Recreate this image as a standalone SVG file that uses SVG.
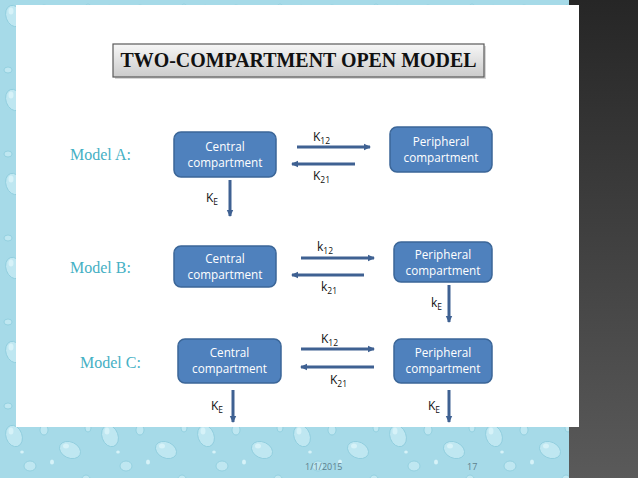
<svg xmlns="http://www.w3.org/2000/svg" width="638" height="478" viewBox="0 0 638 478">
<defs>
<style>
.box{fill:#4f81bd;stroke:#3b6698;stroke-width:1.5}
.bt{font-family:"Open Sans","Liberation Sans",sans-serif;font-size:11.7px;fill:#ffffff;text-anchor:middle}
.kl{font-family:"Open Sans","Liberation Sans",sans-serif;font-size:12px;fill:#111111}
.sub{font-size:8.5px}
.ml{font-family:"Liberation Serif","DejaVu Serif",serif;font-size:16px;fill:#45b0c4}
.arr{stroke:#3f6192;stroke-width:3;fill:none;marker-end:url(#ah)}
.ft{font-family:"Open Sans","Liberation Sans",sans-serif;font-size:9px;fill:#5d7f8c}
.d{fill:#bfe7f1;stroke:#8ccbdc;stroke-width:0.8}
.h{fill:#d6f2f8}
</style>
<marker id="ah" markerUnits="userSpaceOnUse" markerWidth="8" markerHeight="8" refX="6" refY="4" orient="auto">
<path d="M0,0.8 L7,4 L0,7.2 z" fill="#3f6192"/>
</marker>
<linearGradient id="tg" x1="0" y1="0" x2="0" y2="1">
<stop offset="0" stop-color="#f7f7f7"/>
<stop offset="1" stop-color="#cbcbcb"/>
</linearGradient>
<linearGradient id="dg" x1="0" y1="0" x2="0" y2="1">
<stop offset="0" stop-color="#262626"/>
<stop offset="1" stop-color="#5a5a5a"/>
</linearGradient>
<pattern id="drops" patternUnits="userSpaceOnUse" width="96" height="84">
<rect width="96" height="84" fill="#a6dae8"/>
<ellipse class="d" cx="14" cy="16" rx="8" ry="11" transform="rotate(-20 14 16)"/>
<ellipse class="h" cx="11" cy="11" rx="2.5" ry="3.5"/>
<ellipse class="d" cx="44" cy="10" rx="4" ry="5"/>
<ellipse class="d" cx="70" cy="30" rx="11" ry="8" transform="rotate(25 70 30)"/>
<ellipse class="h" cx="66" cy="26" rx="3" ry="2.5"/>
<ellipse class="d" cx="30" cy="46" rx="6" ry="5"/>
<ellipse class="d" cx="48" cy="68" rx="9" ry="7" transform="rotate(-30 48 68)"/>
<ellipse class="h" cx="45" cy="64" rx="2.5" ry="2"/>
<ellipse class="d" cx="86" cy="62" rx="5" ry="7"/>
<ellipse class="d" cx="8" cy="70" rx="4" ry="3"/>
<ellipse class="d" cx="88" cy="8" rx="3" ry="4"/>
<ellipse class="h" cx="52" cy="42" rx="2" ry="2.5"/>
<ellipse class="h" cx="22" cy="32" rx="1.8" ry="1.5"/>
<ellipse class="h" cx="76" cy="80" rx="2" ry="1.6"/>
<ellipse class="h" cx="30" cy="78" rx="1.6" ry="2"/>
</pattern>
</defs>

<rect x="0" y="0" width="638" height="478" fill="url(#drops)"/>
<rect x="569" y="0" width="69" height="478" fill="url(#dg)"/>
<rect x="16" y="5" width="563" height="422" fill="#ffffff"/>

<g id="title">
<rect x="115" y="46" width="371" height="33" fill="#bbbbbb" opacity="0.6"/>
<rect x="113" y="44" width="371" height="33" fill="url(#tg)" stroke="#5a5a5a" stroke-width="1.2"/>
<text x="298.5" y="67" text-anchor="middle" font-family="Liberation Serif, DejaVu Serif, serif" font-weight="bold" font-size="20" fill="#111111" textLength="356" lengthAdjust="spacingAndGlyphs">TWO-COMPARTMENT OPEN MODEL</text>
</g>

<g id="labels">
<text class="ml" x="70" y="160">Model A:</text>
<text class="ml" x="70" y="273">Model B:</text>
<text class="ml" x="80" y="368">Model C:</text>
</g>

<g id="centralA">
<rect class="box" x="174" y="132" width="102" height="45" rx="7"/>
<text class="bt" x="225" y="151">Central</text>
<text class="bt" x="225" y="167">compartment</text>
</g>
<g id="peripheralA">
<rect class="box" x="390" y="127" width="102" height="45" rx="7"/>
<text class="bt" x="441" y="146">Peripheral</text>
<text class="bt" x="441" y="162">compartment</text>
</g>

<g id="centralB">
<rect class="box" x="174" y="246" width="102" height="41" rx="7"/>
<text class="bt" x="225" y="263">Central</text>
<text class="bt" x="225" y="279">compartment</text>
</g>
<g id="peripheralB">
<rect class="box" x="394" y="242" width="98" height="40" rx="7"/>
<text class="bt" x="443" y="259">Peripheral</text>
<text class="bt" x="443" y="275">compartment</text>
</g>

<g id="centralC">
<rect class="box" x="178" y="339" width="103" height="44" rx="7"/>
<text class="bt" x="229.5" y="357">Central</text>
<text class="bt" x="229.5" y="373">compartment</text>
</g>
<g id="peripheralC">
<rect class="box" x="394" y="339" width="98" height="44" rx="7"/>
<text class="bt" x="443" y="357">Peripheral</text>
<text class="bt" x="443" y="373">compartment</text>
</g>

<g id="connectors">
<line class="arr" x1="297" y1="147" x2="370" y2="147"/>
<line class="arr" x1="355" y1="164" x2="292" y2="164"/>
<line class="arr" x1="230" y1="180" x2="230" y2="216"/>

<line class="arr" x1="301" y1="258" x2="374" y2="258"/>
<line class="arr" x1="364" y1="275" x2="292" y2="275"/>
<line class="arr" x1="449" y1="285" x2="449" y2="322"/>

<line class="arr" x1="301" y1="349" x2="374" y2="349"/>
<line class="arr" x1="374" y1="367" x2="301" y2="367"/>
<line class="arr" x1="233" y1="390" x2="233" y2="422"/>
<line class="arr" x1="449" y1="390" x2="449" y2="422"/>
</g>

<g id="rates">
<text class="kl" x="313" y="141">K<tspan class="sub" dy="3">12</tspan></text>
<text class="kl" x="313" y="180">K<tspan class="sub" dy="3">21</tspan></text>
<text class="kl" x="206" y="202">K<tspan class="sub" dy="3">E</tspan></text>

<text class="kl" x="317" y="251">k<tspan class="sub" dy="3">12</tspan></text>
<text class="kl" x="321" y="291">k<tspan class="sub" dy="3">21</tspan></text>
<text class="kl" x="431" y="307">k<tspan class="sub" dy="3">E</tspan></text>

<text class="kl" x="321" y="343">K<tspan class="sub" dy="3">12</tspan></text>
<text class="kl" x="330" y="384">K<tspan class="sub" dy="3">21</tspan></text>
<text class="kl" x="211" y="410">K<tspan class="sub" dy="3">E</tspan></text>
<text class="kl" x="428" y="410">K<tspan class="sub" dy="3">E</tspan></text>
</g>

<g id="footer">
<text class="ft" x="305" y="470">1/1/2015</text>
<text class="ft" x="467" y="470">17</text>
</g>
</svg>
